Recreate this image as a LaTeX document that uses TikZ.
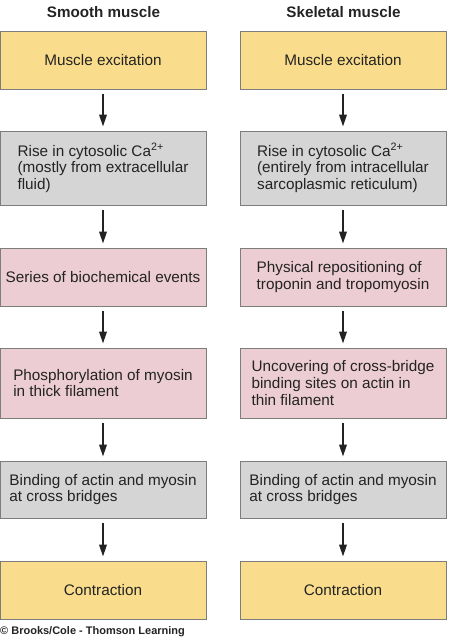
\documentclass[tikz,border=0pt]{standalone}
\usepackage{fontspec}
\setmainfont{Liberation Sans}
\usetikzlibrary{arrows.meta,positioning}
\definecolor{excitefill}{RGB}{250,221,140}
\definecolor{calcfill}{RGB}{213,213,213}
\definecolor{eventfill}{RGB}{237,205,212}
\definecolor{boxline}{RGB}{125,125,125}
\definecolor{inktext}{RGB}{35,35,35}
\tikzset{
stepbox/.style={draw=boxline, line width=0.8pt, align=left, inner sep=0pt, minimum width=206pt, text=inktext, font=\fontsize{15.3}{16.7}\selectfont},
excitebox/.style={stepbox, fill=excitefill},
calcbox/.style={stepbox, fill=calcfill},
eventbox/.style={stepbox, fill=eventfill},
flowarrow/.style={draw=inktext, line width=1.8pt, -{Triangle[length=12pt,width=7.5pt]}, shorten <=5pt, shorten >=4pt},
headline/.style={text=inktext, font=\fontsize{15.2}{18}\selectfont\bfseries},
}

\begin{document}
\begin{tikzpicture}[x=1pt,y=1pt,yscale=-1,xscale=1]
\useasboundingbox (0,0) rectangle (448,640);
%Titles
\node[headline] (smoothtitle) at (103.5,12) {Smooth muscle};
\node[headline] (skeltitle) at (343.5,12) {Skeletal muscle};
%Smooth muscle boxes
\node[excitebox, minimum height=58pt] (sexc) at (103,60) {Muscle excitation};
\node[calcbox, minimum height=74pt] (scal) at (103,168) {Rise in cytosolic Ca\textsuperscript{2+}\\(mostly from extracellular\\fluid)};
\node[eventbox, minimum height=58pt] (sbio) at (103,277) {Series of biochemical events};
\node[eventbox, minimum height=70pt] (sphos) at (103,383) {Phosphorylation of myosin\\in thick filament};
\node[calcbox, minimum height=57pt] (sbind) at (103,489.5) {Binding of actin and myosin\\at cross bridges};
\node[excitebox, minimum height=58pt] (scon) at (103,590) {Contraction};
%Skeletal muscle boxes
\node[excitebox, minimum height=58pt] (kexc) at (343,60) {Muscle excitation};
\node[calcbox, minimum height=74pt] (kcal) at (343,168) {Rise in cytosolic Ca\textsuperscript{2+}\\(entirely from intracellular\\sarcoplasmic reticulum)};
\node[eventbox, minimum height=58pt] (krep) at (343,277) {Physical repositioning of\\troponin and tropomyosin};
\node[eventbox, minimum height=70pt] (kunc) at (343,383) {Uncovering of cross-bridge\\binding sites on actin in\\thin filament};
\node[calcbox, minimum height=57pt] (kbind) at (343,489.5) {Binding of actin and myosin\\at cross bridges};
\node[excitebox, minimum height=58pt] (kcon) at (343,590) {Contraction};
%Arrows
\draw[flowarrow] (sexc) -- (scal);
\draw[flowarrow] (scal) -- (sbio);
\draw[flowarrow] (sbio) -- (sphos);
\draw[flowarrow] (sphos) -- (sbind);
\draw[flowarrow] (sbind) -- (scon);
\draw[flowarrow] (kexc) -- (kcal);
\draw[flowarrow] (kcal) -- (krep);
\draw[flowarrow] (krep) -- (kunc);
\draw[flowarrow] (kunc) -- (kbind);
\draw[flowarrow] (kbind) -- (kcon);
%Credit
\node[anchor=west, inner sep=0pt, text=inktext, font=\fontsize{11}{13}\selectfont\bfseries] (credit) at (0,632) {© Brooks/Cole - Thomson Learning};
\end{tikzpicture}
\end{document}
